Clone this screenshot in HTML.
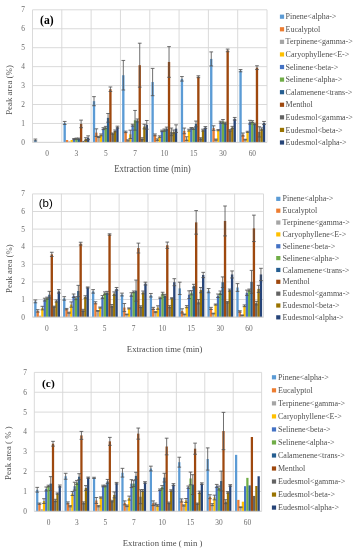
<!DOCTYPE html>
<html lang="en"><head><meta charset="utf-8"><title>Peak area vs extraction time</title>
<style>html,body{margin:0;padding:0;background:#fff}svg{display:block}text{font-family:"Liberation Serif",serif;fill:#595959}.k{fill:#6b6b6b}.l{fill:#505050}.a{fill:#4f4f4f}</style></head><body>
<svg width="357" height="550" viewBox="0 0 357 550">
<rect width="357" height="550" fill="#fff"/>
<g>
<path d="M32.50 142.40H267.00M32.50 123.46H267.00M32.50 104.51H267.00M32.50 85.57H267.00M32.50 66.63H267.00M32.50 47.69H267.00M32.50 28.74H267.00M32.50 9.80H267.00M32.50 9.80V142.40M61.81 9.80V142.40M91.12 9.80V142.40M120.44 9.80V142.40M149.75 9.80V142.40M179.06 9.80V142.40M208.38 9.80V142.40M237.69 9.80V142.40M267.00 9.80V142.40" stroke="#D6D6D6" stroke-width="0.9" fill="none"/>
<rect x="34.20" y="140.01" width="2.35" height="2.39" fill="#5B9BD5"/>
<rect x="63.51" y="122.96" width="2.35" height="19.44" fill="#5B9BD5"/><rect x="65.86" y="140.01" width="2.35" height="2.39" fill="#ED7D31"/><rect x="68.20" y="141.33" width="2.35" height="1.07" fill="#A5A5A5"/><rect x="70.55" y="140.01" width="2.35" height="2.39" fill="#FFC000"/><rect x="72.89" y="139.06" width="2.35" height="3.34" fill="#4472C4"/><rect x="75.24" y="138.68" width="2.35" height="3.72" fill="#70AD47"/><rect x="77.58" y="138.68" width="2.35" height="3.72" fill="#255E91"/><rect x="79.93" y="123.90" width="2.35" height="18.50" fill="#9E480E"/><rect x="82.27" y="140.95" width="2.35" height="1.45" fill="#636363"/><rect x="84.62" y="139.06" width="2.35" height="3.34" fill="#997300"/><rect x="86.96" y="137.73" width="2.35" height="4.67" fill="#264478"/>
<rect x="92.83" y="101.17" width="2.35" height="41.23" fill="#5B9BD5"/><rect x="95.17" y="132.62" width="2.35" height="9.78" fill="#ED7D31"/><rect x="97.52" y="136.97" width="2.35" height="5.43" fill="#A5A5A5"/><rect x="99.86" y="134.89" width="2.35" height="7.51" fill="#FFC000"/><rect x="102.20" y="128.64" width="2.35" height="13.76" fill="#4472C4"/><rect x="104.55" y="127.50" width="2.35" height="14.90" fill="#70AD47"/><rect x="106.90" y="117.84" width="2.35" height="24.56" fill="#255E91"/><rect x="109.24" y="89.24" width="2.35" height="53.16" fill="#9E480E"/><rect x="111.59" y="133.57" width="2.35" height="8.83" fill="#636363"/><rect x="113.93" y="130.91" width="2.35" height="11.49" fill="#997300"/><rect x="116.28" y="127.12" width="2.35" height="15.28" fill="#264478"/>
<rect x="122.14" y="75.22" width="2.35" height="67.18" fill="#5B9BD5"/><rect x="124.48" y="131.86" width="2.35" height="10.54" fill="#ED7D31"/><rect x="126.83" y="140.38" width="2.35" height="2.02" fill="#A5A5A5"/><rect x="129.17" y="134.32" width="2.35" height="8.08" fill="#FFC000"/><rect x="131.52" y="125.23" width="2.35" height="17.17" fill="#4472C4"/><rect x="133.86" y="120.31" width="2.35" height="22.09" fill="#70AD47"/><rect x="136.21" y="120.49" width="2.35" height="21.91" fill="#255E91"/><rect x="138.55" y="65.18" width="2.35" height="77.22" fill="#9E480E"/><rect x="140.90" y="138.68" width="2.35" height="3.72" fill="#636363"/><rect x="143.24" y="126.56" width="2.35" height="15.84" fill="#997300"/><rect x="145.59" y="124.85" width="2.35" height="17.55" fill="#264478"/>
<rect x="151.45" y="82.04" width="2.35" height="60.36" fill="#5B9BD5"/><rect x="153.79" y="134.89" width="2.35" height="7.51" fill="#ED7D31"/><rect x="156.14" y="139.63" width="2.35" height="2.77" fill="#A5A5A5"/><rect x="158.48" y="136.60" width="2.35" height="5.80" fill="#FFC000"/><rect x="160.83" y="130.91" width="2.35" height="11.49" fill="#4472C4"/><rect x="163.17" y="130.16" width="2.35" height="12.24" fill="#70AD47"/><rect x="165.52" y="128.64" width="2.35" height="13.76" fill="#255E91"/><rect x="167.86" y="61.96" width="2.35" height="80.44" fill="#9E480E"/><rect x="170.21" y="131.86" width="2.35" height="10.54" fill="#636363"/><rect x="172.55" y="131.86" width="2.35" height="10.54" fill="#997300"/><rect x="174.90" y="128.64" width="2.35" height="13.76" fill="#264478"/>
<rect x="180.76" y="78.82" width="2.35" height="63.58" fill="#5B9BD5"/><rect x="183.11" y="130.91" width="2.35" height="11.49" fill="#ED7D31"/><rect x="185.45" y="138.68" width="2.35" height="3.72" fill="#A5A5A5"/><rect x="187.80" y="130.16" width="2.35" height="12.24" fill="#FFC000"/><rect x="190.14" y="128.26" width="2.35" height="14.14" fill="#4472C4"/><rect x="192.49" y="128.64" width="2.35" height="13.76" fill="#70AD47"/><rect x="194.83" y="123.90" width="2.35" height="18.50" fill="#255E91"/><rect x="197.18" y="76.74" width="2.35" height="65.66" fill="#9E480E"/><rect x="199.52" y="138.49" width="2.35" height="3.91" fill="#636363"/><rect x="201.87" y="130.16" width="2.35" height="12.24" fill="#997300"/><rect x="204.21" y="127.50" width="2.35" height="14.90" fill="#264478"/>
<rect x="210.07" y="58.93" width="2.35" height="83.47" fill="#5B9BD5"/><rect x="212.42" y="128.07" width="2.35" height="14.33" fill="#ED7D31"/><rect x="214.76" y="139.63" width="2.35" height="2.77" fill="#A5A5A5"/><rect x="217.11" y="130.16" width="2.35" height="12.24" fill="#FFC000"/><rect x="219.45" y="122.20" width="2.35" height="20.20" fill="#4472C4"/><rect x="221.80" y="121.44" width="2.35" height="20.96" fill="#70AD47"/><rect x="224.14" y="123.15" width="2.35" height="19.25" fill="#255E91"/><rect x="226.49" y="50.41" width="2.35" height="91.99" fill="#9E480E"/><rect x="228.83" y="130.34" width="2.35" height="12.06" fill="#636363"/><rect x="231.18" y="127.50" width="2.35" height="14.90" fill="#997300"/><rect x="233.52" y="118.79" width="2.35" height="23.61" fill="#264478"/>
<rect x="239.39" y="70.67" width="2.35" height="71.73" fill="#5B9BD5"/><rect x="241.73" y="134.51" width="2.35" height="7.89" fill="#ED7D31"/><rect x="244.08" y="139.63" width="2.35" height="2.77" fill="#A5A5A5"/><rect x="246.42" y="131.86" width="2.35" height="10.54" fill="#FFC000"/><rect x="248.77" y="122.20" width="2.35" height="20.20" fill="#4472C4"/><rect x="251.11" y="121.63" width="2.35" height="20.77" fill="#70AD47"/><rect x="253.46" y="123.90" width="2.35" height="18.50" fill="#255E91"/><rect x="255.80" y="67.64" width="2.35" height="74.76" fill="#9E480E"/><rect x="258.15" y="131.86" width="2.35" height="10.54" fill="#636363"/><rect x="260.49" y="129.02" width="2.35" height="13.38" fill="#997300"/><rect x="262.84" y="122.96" width="2.35" height="19.44" fill="#264478"/>
<path d="M32.50 142.40H267.00" stroke="#D6D6D6" stroke-width="0.9" fill="none"/>
<path d="M35.37 139.06V140.95M33.52 139.06h3.7M33.52 140.95h3.7M64.69 121.44V124.47M62.84 121.44h3.7M62.84 124.47h3.7M74.06 138.49V139.63M72.22 138.49h3.7M72.22 139.63h3.7M76.41 138.11V139.25M74.56 138.11h3.7M74.56 139.25h3.7M78.76 138.11V139.25M76.91 138.11h3.7M76.91 139.25h3.7M81.10 120.12V127.69M79.25 120.12h3.7M79.25 127.69h3.7M85.79 137.73V140.38M83.94 137.73h3.7M83.94 140.38h3.7M88.14 135.84V139.63M86.29 135.84h3.7M86.29 139.63h3.7M94.00 96.63V105.72M92.15 96.63h3.7M92.15 105.72h3.7M96.34 128.83V136.41M94.49 128.83h3.7M94.49 136.41h3.7M98.69 136.41V137.54M96.84 136.41h3.7M96.84 137.54h3.7M101.03 133.94V135.84M99.18 133.94h3.7M99.18 135.84h3.7M103.38 127.69V129.59M101.53 127.69h3.7M101.53 129.59h3.7M105.72 126.37V128.64M103.87 126.37h3.7M103.87 128.64h3.7M108.07 113.49V122.20M106.22 113.49h3.7M106.22 122.20h3.7M110.41 86.97V91.51M108.56 86.97h3.7M108.56 91.51h3.7M112.76 133.00V134.13M110.91 133.00h3.7M110.91 134.13h3.7M115.10 129.97V131.86M113.25 129.97h3.7M113.25 131.86h3.7M117.45 126.18V128.07M115.60 126.18h3.7M115.60 128.07h3.7M123.31 60.45V90.00M121.46 60.45h3.7M121.46 90.00h3.7M125.66 131.10V132.62M123.81 131.10h3.7M123.81 132.62h3.7M128.00 139.82V140.95M126.15 139.82h3.7M126.15 140.95h3.7M130.35 130.16V138.49M128.50 130.16h3.7M128.50 138.49h3.7M132.69 124.28V126.18M130.84 124.28h3.7M130.84 126.18h3.7M135.04 110.45V130.16M133.19 110.45h3.7M133.19 130.16h3.7M137.38 118.98V122.01M135.53 118.98h3.7M135.53 122.01h3.7M139.73 43.21V87.16M137.88 43.21h3.7M137.88 87.16h3.7M142.07 137.73V139.63M140.22 137.73h3.7M140.22 139.63h3.7M144.42 124.28V128.83M142.57 124.28h3.7M142.57 128.83h3.7M146.76 120.49V129.21M144.91 120.49h3.7M144.91 129.21h3.7M152.62 68.40V95.68M150.77 68.40h3.7M150.77 95.68h3.7M154.97 133.94V135.84M153.12 133.94h3.7M153.12 135.84h3.7M157.31 138.87V140.38M155.46 138.87h3.7M155.46 140.38h3.7M159.66 135.84V137.35M157.81 135.84h3.7M157.81 137.35h3.7M162.00 130.16V131.67M160.15 130.16h3.7M160.15 131.67h3.7M164.35 129.02V131.29M162.50 129.02h3.7M162.50 131.29h3.7M166.69 127.12V130.16M164.84 127.12h3.7M164.84 130.16h3.7M169.04 46.62V77.30M167.19 46.62h3.7M167.19 77.30h3.7M171.38 128.07V135.65M169.53 128.07h3.7M169.53 135.65h3.7M173.73 129.97V133.75M171.88 129.97h3.7M171.88 133.75h3.7M176.07 124.85V132.43M174.22 124.85h3.7M174.22 132.43h3.7M181.94 76.55V81.09M180.09 76.55h3.7M180.09 81.09h3.7M184.28 128.07V133.75M182.43 128.07h3.7M182.43 133.75h3.7M186.62 136.79V140.57M184.78 136.79h3.7M184.78 140.57h3.7M188.97 129.21V131.10M187.12 129.21h3.7M187.12 131.10h3.7M191.31 127.50V129.02M189.47 127.50h3.7M189.47 129.02h3.7M193.66 127.88V129.40M191.81 127.88h3.7M191.81 129.40h3.7M196.00 121.06V126.75M194.16 121.06h3.7M194.16 126.75h3.7M198.35 75.79V77.68M196.50 75.79h3.7M196.50 77.68h3.7M200.69 137.73V139.25M198.84 137.73h3.7M198.84 139.25h3.7M203.04 129.21V131.10M201.19 129.21h3.7M201.19 131.10h3.7M205.38 126.56V128.45M203.53 126.56h3.7M203.53 128.45h3.7M211.25 51.92V65.94M209.40 51.92h3.7M209.40 65.94h3.7M213.59 125.80V130.34M211.74 125.80h3.7M211.74 130.34h3.7M215.94 139.06V140.20M214.09 139.06h3.7M214.09 140.20h3.7M218.28 129.59V130.72M216.43 129.59h3.7M216.43 130.72h3.7M220.63 121.25V123.15M218.78 121.25h3.7M218.78 123.15h3.7M222.97 119.55V123.34M221.12 119.55h3.7M221.12 123.34h3.7M225.32 122.20V124.09M223.47 122.20h3.7M223.47 124.09h3.7M227.66 49.08V51.73M225.81 49.08h3.7M225.81 51.73h3.7M230.01 129.59V131.10M228.16 129.59h3.7M228.16 131.10h3.7M232.35 126.37V128.64M230.50 126.37h3.7M230.50 128.64h3.7M234.70 117.46V120.12M232.85 117.46h3.7M232.85 120.12h3.7M240.56 69.54V71.81M238.71 69.54h3.7M238.71 71.81h3.7M242.91 133.00V136.03M241.06 133.00h3.7M241.06 136.03h3.7M245.25 139.25V140.01M243.40 139.25h3.7M243.40 140.01h3.7M247.59 131.29V132.43M245.75 131.29h3.7M245.75 132.43h3.7M249.94 120.31V124.09M248.09 120.31h3.7M248.09 124.09h3.7M252.28 120.68V122.58M250.44 120.68h3.7M250.44 122.58h3.7M254.63 123.15V124.66M252.78 123.15h3.7M252.78 124.66h3.7M256.97 65.75V69.54M255.12 65.75h3.7M255.12 69.54h3.7M259.32 126.75V136.97M257.47 126.75h3.7M257.47 136.97h3.7M261.67 127.88V130.16M259.81 127.88h3.7M259.81 130.16h3.7M264.01 121.44V124.47M262.16 121.44h3.7M262.16 124.47h3.7" stroke="#555555" stroke-width="0.85" fill="none"/>
<text x="23.0" y="144.95" class="k" font-size="7.4" text-anchor="middle">0</text><text x="23.0" y="126.01" class="k" font-size="7.4" text-anchor="middle">1</text><text x="23.0" y="107.06" class="k" font-size="7.4" text-anchor="middle">2</text><text x="23.0" y="88.12" class="k" font-size="7.4" text-anchor="middle">3</text><text x="23.0" y="69.18" class="k" font-size="7.4" text-anchor="middle">4</text><text x="23.0" y="50.24" class="k" font-size="7.4" text-anchor="middle">5</text><text x="23.0" y="31.29" class="k" font-size="7.4" text-anchor="middle">6</text><text x="23.0" y="12.35" class="k" font-size="7.4" text-anchor="middle">7</text>
<text x="47.16" y="155.60" class="k" font-size="7.4" text-anchor="middle">0</text><text x="76.47" y="155.60" class="k" font-size="7.4" text-anchor="middle">3</text><text x="105.78" y="155.60" class="k" font-size="7.4" text-anchor="middle">5</text><text x="135.09" y="155.60" class="k" font-size="7.4" text-anchor="middle">7</text><text x="164.41" y="155.60" class="k" font-size="7.4" text-anchor="middle">10</text><text x="193.72" y="155.60" class="k" font-size="7.4" text-anchor="middle">15</text><text x="223.03" y="155.60" class="k" font-size="7.4" text-anchor="middle">30</text><text x="252.34" y="155.60" class="k" font-size="7.4" text-anchor="middle">60</text>
<text x="152.50" y="171.90" font-size="9.37" text-anchor="middle" textLength="76.6" lengthAdjust="spacingAndGlyphs" class="a">Extraction time (min)</text>
<text transform="translate(11.80 90.00) rotate(-90)" font-size="8.95" text-anchor="middle" textLength="49.7" lengthAdjust="spacingAndGlyphs" class="a">Peak area (%)</text>
<text x="40.10" y="23.50" font-size="11.65" font-weight="bold" style="font-family:'Liberation Serif',serif;fill:#000">(a)</text>
<rect x="279.90" y="14.60" width="4.2" height="4.2" fill="#5B9BD5"/><text x="285.60" y="19.30" class="l" font-size="8">Pinene&lt;alpha-&gt;</text>
<rect x="279.90" y="27.18" width="4.2" height="4.2" fill="#ED7D31"/><text x="285.60" y="31.88" class="l" font-size="8">Eucalyptol</text>
<rect x="279.90" y="39.76" width="4.2" height="4.2" fill="#A5A5A5"/><text x="285.60" y="44.46" class="l" font-size="8">Terpinene&lt;gamma-&gt;</text>
<rect x="279.90" y="52.34" width="4.2" height="4.2" fill="#FFC000"/><text x="285.60" y="57.04" class="l" font-size="8">Caryophyllene&lt;E-&gt;</text>
<rect x="279.90" y="64.92" width="4.2" height="4.2" fill="#4472C4"/><text x="285.60" y="69.62" class="l" font-size="8">Selinene&lt;beta-&gt;</text>
<rect x="279.90" y="77.50" width="4.2" height="4.2" fill="#70AD47"/><text x="285.60" y="82.20" class="l" font-size="8">Selinene&lt;alpha-&gt;</text>
<rect x="279.90" y="90.08" width="4.2" height="4.2" fill="#255E91"/><text x="285.60" y="94.78" class="l" font-size="8">Calamenene&lt;trans-&gt;</text>
<rect x="279.90" y="102.66" width="4.2" height="4.2" fill="#9E480E"/><text x="285.60" y="107.36" class="l" font-size="8">Menthol</text>
<rect x="279.90" y="115.24" width="4.2" height="4.2" fill="#636363"/><text x="285.60" y="119.94" class="l" font-size="8">Eudesmol&lt;gamma-&gt;</text>
<rect x="279.90" y="127.82" width="4.2" height="4.2" fill="#997300"/><text x="285.60" y="132.52" class="l" font-size="8">Eudesmol&lt;beta-&gt;</text>
<rect x="279.90" y="140.40" width="4.2" height="4.2" fill="#264478"/><text x="285.60" y="145.10" class="l" font-size="8">Eudesmol&lt;alpha-&gt;</text>
</g>
<g>
<path d="M32.50 317.10H263.50M32.50 299.50H263.50M32.50 281.90H263.50M32.50 264.30H263.50M32.50 246.70H263.50M32.50 229.10H263.50M32.50 211.50H263.50M32.50 193.90H263.50M32.50 193.90V317.10M61.38 193.90V317.10M90.25 193.90V317.10M119.12 193.90V317.10M148.00 193.90V317.10M176.88 193.90V317.10M205.75 193.90V317.10M234.62 193.90V317.10M263.50 193.90V317.10" stroke="#D6D6D6" stroke-width="0.9" fill="none"/>
<rect x="34.20" y="301.39" width="2.35" height="15.71" fill="#5B9BD5"/><rect x="36.55" y="310.89" width="2.35" height="6.21" fill="#ED7D31"/><rect x="38.89" y="315.64" width="2.35" height="1.46" fill="#A5A5A5"/><rect x="41.23" y="308.08" width="2.35" height="9.02" fill="#FFC000"/><rect x="43.58" y="299.63" width="2.35" height="17.47" fill="#4472C4"/><rect x="45.93" y="298.22" width="2.35" height="18.88" fill="#70AD47"/><rect x="48.27" y="294.70" width="2.35" height="22.40" fill="#255E91"/><rect x="50.62" y="254.40" width="2.35" height="62.70" fill="#9E480E"/><rect x="52.96" y="306.67" width="2.35" height="10.43" fill="#636363"/><rect x="55.31" y="301.04" width="2.35" height="16.06" fill="#997300"/><rect x="57.65" y="291.36" width="2.35" height="25.74" fill="#264478"/>
<rect x="63.08" y="298.40" width="2.35" height="18.70" fill="#5B9BD5"/><rect x="65.42" y="309.13" width="2.35" height="7.97" fill="#ED7D31"/><rect x="67.77" y="312.65" width="2.35" height="4.45" fill="#A5A5A5"/><rect x="70.11" y="304.56" width="2.35" height="12.54" fill="#FFC000"/><rect x="72.45" y="295.76" width="2.35" height="21.34" fill="#4472C4"/><rect x="74.80" y="298.22" width="2.35" height="18.88" fill="#70AD47"/><rect x="77.15" y="291.00" width="2.35" height="26.10" fill="#255E91"/><rect x="79.49" y="243.66" width="2.35" height="73.44" fill="#9E480E"/><rect x="81.84" y="310.36" width="2.35" height="6.74" fill="#636363"/><rect x="84.18" y="296.99" width="2.35" height="20.11" fill="#997300"/><rect x="86.53" y="287.48" width="2.35" height="29.62" fill="#264478"/>
<rect x="91.95" y="291.36" width="2.35" height="25.74" fill="#5B9BD5"/><rect x="94.30" y="302.80" width="2.35" height="14.30" fill="#ED7D31"/><rect x="96.64" y="310.89" width="2.35" height="6.21" fill="#A5A5A5"/><rect x="98.98" y="307.55" width="2.35" height="9.55" fill="#FFC000"/><rect x="101.33" y="296.99" width="2.35" height="20.11" fill="#4472C4"/><rect x="103.68" y="293.12" width="2.35" height="23.98" fill="#70AD47"/><rect x="106.02" y="292.76" width="2.35" height="24.34" fill="#255E91"/><rect x="108.37" y="234.51" width="2.35" height="82.59" fill="#9E480E"/><rect x="110.71" y="305.79" width="2.35" height="11.31" fill="#636363"/><rect x="113.06" y="293.64" width="2.35" height="23.46" fill="#997300"/><rect x="115.40" y="288.89" width="2.35" height="28.21" fill="#264478"/>
<rect x="120.83" y="294.52" width="2.35" height="22.58" fill="#5B9BD5"/><rect x="123.17" y="307.55" width="2.35" height="9.55" fill="#ED7D31"/><rect x="125.52" y="314.41" width="2.35" height="2.69" fill="#A5A5A5"/><rect x="127.86" y="308.43" width="2.35" height="8.67" fill="#FFC000"/><rect x="130.21" y="294.52" width="2.35" height="22.58" fill="#4472C4"/><rect x="132.55" y="291.88" width="2.35" height="25.22" fill="#70AD47"/><rect x="134.90" y="290.65" width="2.35" height="26.45" fill="#255E91"/><rect x="137.24" y="248.06" width="2.35" height="69.04" fill="#9E480E"/><rect x="139.59" y="306.67" width="2.35" height="10.43" fill="#636363"/><rect x="141.93" y="292.41" width="2.35" height="24.69" fill="#997300"/><rect x="144.28" y="283.61" width="2.35" height="33.49" fill="#264478"/>
<rect x="149.70" y="295.23" width="2.35" height="21.87" fill="#5B9BD5"/><rect x="152.04" y="308.43" width="2.35" height="8.67" fill="#ED7D31"/><rect x="154.39" y="312.12" width="2.35" height="4.98" fill="#A5A5A5"/><rect x="156.73" y="307.55" width="2.35" height="9.55" fill="#FFC000"/><rect x="159.08" y="297.87" width="2.35" height="19.23" fill="#4472C4"/><rect x="161.42" y="293.64" width="2.35" height="23.46" fill="#70AD47"/><rect x="163.77" y="295.76" width="2.35" height="21.34" fill="#255E91"/><rect x="166.11" y="245.24" width="2.35" height="71.86" fill="#9E480E"/><rect x="168.46" y="306.67" width="2.35" height="10.43" fill="#636363"/><rect x="170.80" y="298.22" width="2.35" height="18.88" fill="#997300"/><rect x="173.15" y="282.20" width="2.35" height="34.90" fill="#264478"/>
<rect x="178.57" y="288.36" width="2.35" height="28.74" fill="#5B9BD5"/><rect x="180.92" y="310.89" width="2.35" height="6.21" fill="#ED7D31"/><rect x="183.26" y="314.41" width="2.35" height="2.69" fill="#A5A5A5"/><rect x="185.61" y="306.67" width="2.35" height="10.43" fill="#FFC000"/><rect x="187.95" y="294.70" width="2.35" height="22.40" fill="#4472C4"/><rect x="190.30" y="292.76" width="2.35" height="24.34" fill="#70AD47"/><rect x="192.64" y="286.08" width="2.35" height="31.02" fill="#255E91"/><rect x="194.99" y="222.36" width="2.35" height="94.74" fill="#9E480E"/><rect x="197.33" y="301.74" width="2.35" height="15.36" fill="#636363"/><rect x="199.68" y="290.12" width="2.35" height="26.98" fill="#997300"/><rect x="202.02" y="274.99" width="2.35" height="42.11" fill="#264478"/>
<rect x="207.45" y="290.65" width="2.35" height="26.45" fill="#5B9BD5"/><rect x="209.79" y="308.43" width="2.35" height="8.67" fill="#ED7D31"/><rect x="212.14" y="313.53" width="2.35" height="3.57" fill="#A5A5A5"/><rect x="214.48" y="304.56" width="2.35" height="12.54" fill="#FFC000"/><rect x="216.83" y="295.76" width="2.35" height="21.34" fill="#4472C4"/><rect x="219.17" y="292.76" width="2.35" height="24.34" fill="#70AD47"/><rect x="221.52" y="282.20" width="2.35" height="34.90" fill="#255E91"/><rect x="223.86" y="220.96" width="2.35" height="96.14" fill="#9E480E"/><rect x="226.21" y="302.27" width="2.35" height="14.83" fill="#636363"/><rect x="228.55" y="290.12" width="2.35" height="26.98" fill="#997300"/><rect x="230.90" y="274.46" width="2.35" height="42.64" fill="#264478"/>
<rect x="236.32" y="287.48" width="2.35" height="29.62" fill="#5B9BD5"/><rect x="238.67" y="311.42" width="2.35" height="5.68" fill="#ED7D31"/><rect x="241.01" y="315.29" width="2.35" height="1.81" fill="#A5A5A5"/><rect x="243.36" y="305.79" width="2.35" height="11.31" fill="#FFC000"/><rect x="245.70" y="292.76" width="2.35" height="24.34" fill="#4472C4"/><rect x="248.05" y="290.12" width="2.35" height="26.98" fill="#70AD47"/><rect x="250.39" y="281.85" width="2.35" height="35.25" fill="#255E91"/><rect x="252.74" y="228.35" width="2.35" height="88.75" fill="#9E480E"/><rect x="255.08" y="303.15" width="2.35" height="13.95" fill="#636363"/><rect x="257.43" y="288.89" width="2.35" height="28.21" fill="#997300"/><rect x="259.77" y="274.46" width="2.35" height="42.64" fill="#264478"/>
<path d="M32.50 317.10H263.50" stroke="#D6D6D6" stroke-width="0.9" fill="none"/>
<path d="M35.37 299.98V302.80M33.52 299.98h3.7M33.52 302.80h3.7M37.72 309.66V312.12M35.87 309.66h3.7M35.87 312.12h3.7M42.41 306.32V309.84M40.56 306.32h3.7M40.56 309.84h3.7M44.75 298.22V301.04M42.90 298.22h3.7M42.90 301.04h3.7M47.10 297.16V299.28M45.25 297.16h3.7M45.25 299.28h3.7M49.44 291.36V298.04M47.59 291.36h3.7M47.59 298.04h3.7M51.79 252.28V256.51M49.94 252.28h3.7M49.94 256.51h3.7M54.13 306.14V307.20M52.28 306.14h3.7M52.28 307.20h3.7M56.48 299.98V302.09M54.63 299.98h3.7M54.63 302.09h3.7M58.82 289.60V293.12M56.97 289.60h3.7M56.97 293.12h3.7M64.25 296.64V300.16M62.40 296.64h3.7M62.40 300.16h3.7M66.59 308.43V309.84M64.74 308.43h3.7M64.74 309.84h3.7M68.94 312.12V313.18M67.09 312.12h3.7M67.09 313.18h3.7M71.28 301.92V307.20M69.43 301.92h3.7M69.43 307.20h3.7M73.63 294.00V297.52M71.78 294.00h3.7M71.78 297.52h3.7M75.97 296.81V299.63M74.12 296.81h3.7M74.12 299.63h3.7M78.32 285.37V296.64M76.47 285.37h3.7M76.47 296.64h3.7M80.66 242.25V245.07M78.81 242.25h3.7M78.81 245.07h3.7M83.01 309.31V311.42M81.16 309.31h3.7M81.16 311.42h3.7M85.35 295.76V298.22M83.50 295.76h3.7M83.50 298.22h3.7M87.70 286.96V288.01M85.85 286.96h3.7M85.85 288.01h3.7M93.12 289.60V293.12M91.27 289.60h3.7M91.27 293.12h3.7M95.47 301.74V303.85M93.62 301.74h3.7M93.62 303.85h3.7M97.81 310.54V311.24M95.96 310.54h3.7M95.96 311.24h3.7M100.16 307.02V308.08M98.31 307.02h3.7M98.31 308.08h3.7M102.50 295.58V298.40M100.65 295.58h3.7M100.65 298.40h3.7M104.85 291.88V294.35M103.00 291.88h3.7M103.00 294.35h3.7M107.19 291.36V294.17M105.34 291.36h3.7M105.34 294.17h3.7M109.54 233.80V235.21M107.69 233.80h3.7M107.69 235.21h3.7M111.88 304.56V307.02M110.03 304.56h3.7M110.03 307.02h3.7M114.23 291.88V295.40M112.38 291.88h3.7M112.38 295.40h3.7M116.57 287.48V290.30M114.72 287.48h3.7M114.72 290.30h3.7M122.00 293.12V295.93M120.15 293.12h3.7M120.15 295.93h3.7M124.34 303.50V311.60M122.49 303.50h3.7M122.49 311.60h3.7M126.69 314.06V314.76M124.84 314.06h3.7M124.84 314.76h3.7M129.03 307.90V308.96M127.18 307.90h3.7M127.18 308.96h3.7M131.38 292.76V296.28M129.53 292.76h3.7M129.53 296.28h3.7M133.72 291.00V292.76M131.87 291.00h3.7M131.87 292.76h3.7M136.07 280.09V301.21M134.22 280.09h3.7M134.22 301.21h3.7M138.41 243.13V252.99M136.56 243.13h3.7M136.56 252.99h3.7M140.76 305.79V307.55M138.91 305.79h3.7M138.91 307.55h3.7M143.10 291.00V293.82M141.25 291.00h3.7M141.25 293.82h3.7M145.45 282.20V285.02M143.60 282.20h3.7M143.60 285.02h3.7M150.87 293.47V296.99M149.02 293.47h3.7M149.02 296.99h3.7M153.22 307.37V309.48M151.37 307.37h3.7M151.37 309.48h3.7M155.56 311.60V312.65M153.71 311.60h3.7M153.71 312.65h3.7M157.91 305.79V309.31M156.06 305.79h3.7M156.06 309.31h3.7M160.25 297.16V298.57M158.40 297.16h3.7M158.40 298.57h3.7M162.60 292.24V295.05M160.75 292.24h3.7M160.75 295.05h3.7M164.94 294.35V297.16M163.09 294.35h3.7M163.09 297.16h3.7M167.29 242.08V248.41M165.44 242.08h3.7M165.44 248.41h3.7M169.63 305.61V307.72M167.78 305.61h3.7M167.78 307.72h3.7M171.98 297.69V298.75M170.13 297.69h3.7M170.13 298.75h3.7M174.32 278.68V285.72M172.47 278.68h3.7M172.47 285.72h3.7M179.75 282.20V294.52M177.90 282.20h3.7M177.90 294.52h3.7M182.09 308.78V313.00M180.24 308.78h3.7M180.24 313.00h3.7M184.44 314.06V314.76M182.59 314.06h3.7M182.59 314.76h3.7M186.78 305.61V307.72M184.93 305.61h3.7M184.93 307.72h3.7M189.13 290.83V298.57M187.28 290.83h3.7M187.28 298.57h3.7M191.47 290.65V294.88M189.62 290.65h3.7M189.62 294.88h3.7M193.82 284.32V287.84M191.97 284.32h3.7M191.97 287.84h3.7M196.16 210.57V234.16M194.31 210.57h3.7M194.31 234.16h3.7M198.51 299.63V303.85M196.66 299.63h3.7M196.66 303.85h3.7M200.85 287.48V292.76M199.00 287.48h3.7M199.00 292.76h3.7M203.20 272.35V277.63M201.35 272.35h3.7M201.35 277.63h3.7M208.62 288.54V292.76M206.77 288.54h3.7M206.77 292.76h3.7M210.97 307.37V309.48M209.12 307.37h3.7M209.12 309.48h3.7M213.31 313.18V313.88M211.46 313.18h3.7M211.46 313.88h3.7M215.66 304.03V305.08M213.81 304.03h3.7M213.81 305.08h3.7M218.00 294.00V297.52M216.15 294.00h3.7M216.15 297.52h3.7M220.35 291.00V294.52M218.50 291.00h3.7M218.50 294.52h3.7M222.69 276.92V287.48M220.84 276.92h3.7M220.84 287.48h3.7M225.04 206.00V235.92M223.19 206.00h3.7M223.19 235.92h3.7M227.38 301.56V302.97M225.53 301.56h3.7M225.53 302.97h3.7M229.73 289.07V291.18M227.88 289.07h3.7M227.88 291.18h3.7M232.07 270.94V277.98M230.22 270.94h3.7M230.22 277.98h3.7M237.50 283.61V291.36M235.65 283.61h3.7M235.65 291.36h3.7M239.84 310.72V312.12M237.99 310.72h3.7M237.99 312.12h3.7M242.19 314.94V315.64M240.34 314.94h3.7M240.34 315.64h3.7M244.53 304.91V306.67M242.68 304.91h3.7M242.68 306.67h3.7M246.88 290.12V295.40M245.03 290.12h3.7M245.03 295.40h3.7M249.22 289.07V291.18M247.37 289.07h3.7M247.37 291.18h3.7M251.57 270.41V293.29M249.72 270.41h3.7M249.72 293.29h3.7M253.91 215.15V241.55M252.06 215.15h3.7M252.06 241.55h3.7M256.26 301.39V304.91M254.41 301.39h3.7M254.41 304.91h3.7M258.60 285.37V292.41M256.75 285.37h3.7M256.75 292.41h3.7M260.95 268.30V280.62M259.10 268.30h3.7M259.10 280.62h3.7" stroke="#555555" stroke-width="0.85" fill="none"/>
<text x="23.0" y="319.65" class="k" font-size="7.4" text-anchor="middle">0</text><text x="23.0" y="302.05" class="k" font-size="7.4" text-anchor="middle">1</text><text x="23.0" y="284.45" class="k" font-size="7.4" text-anchor="middle">2</text><text x="23.0" y="266.85" class="k" font-size="7.4" text-anchor="middle">3</text><text x="23.0" y="249.25" class="k" font-size="7.4" text-anchor="middle">4</text><text x="23.0" y="231.65" class="k" font-size="7.4" text-anchor="middle">5</text><text x="23.0" y="214.05" class="k" font-size="7.4" text-anchor="middle">6</text><text x="23.0" y="196.45" class="k" font-size="7.4" text-anchor="middle">7</text>
<text x="46.94" y="331.00" class="k" font-size="7.4" text-anchor="middle">0</text><text x="75.81" y="331.00" class="k" font-size="7.4" text-anchor="middle">3</text><text x="104.69" y="331.00" class="k" font-size="7.4" text-anchor="middle">5</text><text x="133.56" y="331.00" class="k" font-size="7.4" text-anchor="middle">7</text><text x="162.44" y="331.00" class="k" font-size="7.4" text-anchor="middle">10</text><text x="191.31" y="331.00" class="k" font-size="7.4" text-anchor="middle">15</text><text x="220.19" y="331.00" class="k" font-size="7.4" text-anchor="middle">30</text><text x="249.06" y="331.00" class="k" font-size="7.4" text-anchor="middle">60</text>
<text x="164.60" y="352.20" font-size="9.25" text-anchor="middle" textLength="75.6" lengthAdjust="spacingAndGlyphs" class="a">Extraction time (min)</text>
<text transform="translate(11.70 268.70) rotate(-90)" font-size="8.72" text-anchor="middle" textLength="48.4" lengthAdjust="spacingAndGlyphs" class="a">Peak area (%)</text>
<text x="38.70" y="206.80" font-size="11.5" font-weight="normal" style="font-family:'Liberation Sans',sans-serif;fill:#000">(b)</text>
<rect x="276.20" y="196.75" width="4.2" height="4.2" fill="#5B9BD5"/><text x="282.60" y="201.45" class="l" font-size="8">Pinene&lt;alpha-&gt;</text>
<rect x="276.20" y="208.60" width="4.2" height="4.2" fill="#ED7D31"/><text x="282.60" y="213.30" class="l" font-size="8">Eucalyptol</text>
<rect x="276.20" y="220.45" width="4.2" height="4.2" fill="#A5A5A5"/><text x="282.60" y="225.15" class="l" font-size="8">Terpinene&lt;gamma-&gt;</text>
<rect x="276.20" y="232.30" width="4.2" height="4.2" fill="#FFC000"/><text x="282.60" y="237.00" class="l" font-size="8">Caryophyllene&lt;E-&gt;</text>
<rect x="276.20" y="244.15" width="4.2" height="4.2" fill="#4472C4"/><text x="282.60" y="248.85" class="l" font-size="8">Selinene&lt;beta-&gt;</text>
<rect x="276.20" y="256.00" width="4.2" height="4.2" fill="#70AD47"/><text x="282.60" y="260.70" class="l" font-size="8">Selinene&lt;alpha-&gt;</text>
<rect x="276.20" y="267.85" width="4.2" height="4.2" fill="#255E91"/><text x="282.60" y="272.55" class="l" font-size="8">Calamenene&lt;trans-&gt;</text>
<rect x="276.20" y="279.70" width="4.2" height="4.2" fill="#9E480E"/><text x="282.60" y="284.40" class="l" font-size="8">Menthol</text>
<rect x="276.20" y="291.55" width="4.2" height="4.2" fill="#636363"/><text x="282.60" y="296.25" class="l" font-size="8">Eudesmol&lt;gamma-&gt;</text>
<rect x="276.20" y="303.40" width="4.2" height="4.2" fill="#997300"/><text x="282.60" y="308.10" class="l" font-size="8">Eudesmol&lt;beta-&gt;</text>
<rect x="276.20" y="315.25" width="4.2" height="4.2" fill="#264478"/><text x="282.60" y="319.95" class="l" font-size="8">Eudesmol&lt;alpha-&gt;</text>
</g>
<g>
<path d="M34.30 511.30H261.60M34.30 491.46H261.60M34.30 471.61H261.60M34.30 451.77H261.60M34.30 431.93H261.60M34.30 412.09H261.60M34.30 392.24H261.60M34.30 372.40H261.60M34.30 372.40V511.30M62.71 372.40V511.30M91.12 372.40V511.30M119.54 372.40V511.30M147.95 372.40V511.30M176.36 372.40V511.30M204.78 372.40V511.30M233.19 372.40V511.30M261.60 372.40V511.30" stroke="#D6D6D6" stroke-width="0.9" fill="none"/>
<rect x="36.10" y="489.77" width="2.25" height="21.53" fill="#5B9BD5"/><rect x="38.35" y="503.66" width="2.25" height="7.64" fill="#ED7D31"/><rect x="40.61" y="509.21" width="2.25" height="2.09" fill="#A5A5A5"/><rect x="42.86" y="501.08" width="2.25" height="10.22" fill="#FFC000"/><rect x="45.12" y="488.97" width="2.25" height="22.33" fill="#4472C4"/><rect x="47.37" y="486.00" width="2.25" height="25.30" fill="#70AD47"/><rect x="49.63" y="483.62" width="2.25" height="27.68" fill="#255E91"/><rect x="51.88" y="443.73" width="2.25" height="67.57" fill="#9E480E"/><rect x="54.14" y="500.48" width="2.25" height="10.82" fill="#636363"/><rect x="56.39" y="493.54" width="2.25" height="17.76" fill="#997300"/><rect x="58.65" y="486.00" width="2.25" height="25.30" fill="#264478"/>
<rect x="64.51" y="476.27" width="2.25" height="35.03" fill="#5B9BD5"/><rect x="66.77" y="502.86" width="2.25" height="8.44" fill="#ED7D31"/><rect x="69.02" y="506.24" width="2.25" height="5.06" fill="#A5A5A5"/><rect x="71.28" y="493.54" width="2.25" height="17.76" fill="#FFC000"/><rect x="73.53" y="486.20" width="2.25" height="25.10" fill="#4472C4"/><rect x="75.79" y="482.43" width="2.25" height="28.87" fill="#70AD47"/><rect x="78.04" y="476.67" width="2.25" height="34.63" fill="#255E91"/><rect x="80.30" y="435.40" width="2.25" height="75.90" fill="#9E480E"/><rect x="82.55" y="502.86" width="2.25" height="8.44" fill="#636363"/><rect x="84.81" y="487.98" width="2.25" height="23.32" fill="#997300"/><rect x="87.06" y="477.66" width="2.25" height="33.64" fill="#264478"/>
<rect x="92.92" y="477.86" width="2.25" height="33.44" fill="#5B9BD5"/><rect x="95.18" y="500.48" width="2.25" height="10.82" fill="#ED7D31"/><rect x="97.44" y="506.24" width="2.25" height="5.06" fill="#A5A5A5"/><rect x="99.69" y="497.51" width="2.25" height="13.79" fill="#FFC000"/><rect x="101.94" y="486.00" width="2.25" height="25.30" fill="#4472C4"/><rect x="104.20" y="486.00" width="2.25" height="25.30" fill="#70AD47"/><rect x="106.45" y="481.43" width="2.25" height="29.87" fill="#255E91"/><rect x="108.71" y="441.35" width="2.25" height="69.95" fill="#9E480E"/><rect x="110.97" y="501.08" width="2.25" height="10.22" fill="#636363"/><rect x="113.22" y="494.93" width="2.25" height="16.37" fill="#997300"/><rect x="115.47" y="483.22" width="2.25" height="28.08" fill="#264478"/>
<rect x="121.34" y="472.70" width="2.25" height="38.60" fill="#5B9BD5"/><rect x="123.59" y="502.86" width="2.25" height="8.44" fill="#ED7D31"/><rect x="125.85" y="505.84" width="2.25" height="5.46" fill="#A5A5A5"/><rect x="128.10" y="498.10" width="2.25" height="13.20" fill="#FFC000"/><rect x="130.36" y="483.62" width="2.25" height="27.68" fill="#4472C4"/><rect x="132.61" y="483.62" width="2.25" height="27.68" fill="#70AD47"/><rect x="134.87" y="475.88" width="2.25" height="35.42" fill="#255E91"/><rect x="137.12" y="433.61" width="2.25" height="77.69" fill="#9E480E"/><rect x="139.38" y="496.71" width="2.25" height="14.59" fill="#636363"/><rect x="141.63" y="490.56" width="2.25" height="20.74" fill="#997300"/><rect x="143.89" y="482.43" width="2.25" height="28.87" fill="#264478"/>
<rect x="149.75" y="468.54" width="2.25" height="42.76" fill="#5B9BD5"/><rect x="152.00" y="503.26" width="2.25" height="8.04" fill="#ED7D31"/><rect x="154.26" y="504.06" width="2.25" height="7.25" fill="#A5A5A5"/><rect x="156.51" y="505.44" width="2.25" height="5.86" fill="#FFC000"/><rect x="158.77" y="489.77" width="2.25" height="21.53" fill="#4472C4"/><rect x="161.03" y="487.19" width="2.25" height="24.11" fill="#70AD47"/><rect x="163.28" y="477.66" width="2.25" height="33.64" fill="#255E91"/><rect x="165.53" y="446.51" width="2.25" height="64.79" fill="#9E480E"/><rect x="167.79" y="502.86" width="2.25" height="8.44" fill="#636363"/><rect x="170.04" y="490.56" width="2.25" height="20.74" fill="#997300"/><rect x="172.30" y="484.61" width="2.25" height="26.69" fill="#264478"/>
<rect x="178.16" y="462.19" width="2.25" height="49.11" fill="#5B9BD5"/><rect x="180.42" y="500.48" width="2.25" height="10.82" fill="#ED7D31"/><rect x="182.67" y="505.44" width="2.25" height="5.86" fill="#A5A5A5"/><rect x="184.93" y="500.48" width="2.25" height="10.82" fill="#FFC000"/><rect x="187.18" y="487.19" width="2.25" height="24.11" fill="#4472C4"/><rect x="189.44" y="478.46" width="2.25" height="32.84" fill="#70AD47"/><rect x="191.69" y="484.61" width="2.25" height="26.69" fill="#255E91"/><rect x="193.95" y="448.69" width="2.25" height="62.61" fill="#9E480E"/><rect x="196.20" y="503.66" width="2.25" height="7.64" fill="#636363"/><rect x="198.46" y="492.35" width="2.25" height="18.95" fill="#997300"/><rect x="200.71" y="483.62" width="2.25" height="27.68" fill="#264478"/>
<rect x="206.58" y="459.01" width="2.25" height="52.29" fill="#5B9BD5"/><rect x="208.83" y="496.71" width="2.25" height="14.59" fill="#ED7D31"/><rect x="211.09" y="504.65" width="2.25" height="6.65" fill="#A5A5A5"/><rect x="213.34" y="497.51" width="2.25" height="13.79" fill="#FFC000"/><rect x="215.60" y="486.00" width="2.25" height="25.30" fill="#4472C4"/><rect x="217.85" y="487.98" width="2.25" height="23.32" fill="#70AD47"/><rect x="220.11" y="481.04" width="2.25" height="30.26" fill="#255E91"/><rect x="222.36" y="431.03" width="2.25" height="80.27" fill="#9E480E"/><rect x="224.62" y="501.67" width="2.25" height="9.63" fill="#636363"/><rect x="226.87" y="492.35" width="2.25" height="18.95" fill="#997300"/><rect x="229.13" y="485.40" width="2.25" height="25.90" fill="#264478"/>
<rect x="234.99" y="454.84" width="2.25" height="56.46" fill="#5B9BD5"/><rect x="237.24" y="499.89" width="2.25" height="11.41" fill="#ED7D31"/><rect x="239.50" y="507.23" width="2.25" height="4.07" fill="#A5A5A5"/><rect x="241.75" y="501.67" width="2.25" height="9.63" fill="#FFC000"/><rect x="244.01" y="486.20" width="2.25" height="25.10" fill="#4472C4"/><rect x="246.26" y="477.86" width="2.25" height="33.44" fill="#70AD47"/><rect x="248.52" y="485.40" width="2.25" height="25.90" fill="#255E91"/><rect x="250.77" y="436.99" width="2.25" height="74.31" fill="#9E480E"/><rect x="253.03" y="495.92" width="2.25" height="15.38" fill="#636363"/><rect x="255.28" y="486.00" width="2.25" height="25.30" fill="#997300"/><rect x="257.54" y="476.27" width="2.25" height="35.03" fill="#264478"/>
<path d="M34.30 511.30H261.60" stroke="#D6D6D6" stroke-width="0.9" fill="none"/>
<path d="M37.23 487.39V492.15M35.38 487.39h3.7M35.38 492.15h3.7M39.48 503.06V504.25M37.63 503.06h3.7M37.63 504.25h3.7M43.99 498.70V503.46M42.14 498.70h3.7M42.14 503.46h3.7M46.25 486.99V490.96M44.40 486.99h3.7M44.40 490.96h3.7M48.50 485.20V486.79M46.65 485.20h3.7M46.65 486.79h3.7M50.76 476.67V490.56M48.91 476.67h3.7M48.91 490.56h3.7M53.01 441.35V446.11M51.16 441.35h3.7M51.16 446.11h3.7M55.27 499.29V501.67M53.42 499.29h3.7M53.42 501.67h3.7M57.52 492.94V494.13M55.67 492.94h3.7M55.67 494.13h3.7M59.78 485.01V486.99M57.93 485.01h3.7M57.93 486.99h3.7M65.64 473.30V479.25M63.79 473.30h3.7M63.79 479.25h3.7M67.89 501.87V503.86M66.05 501.87h3.7M66.05 503.86h3.7M70.15 505.64V506.83M68.30 505.64h3.7M68.30 506.83h3.7M72.41 491.55V495.52M70.56 491.55h3.7M70.56 495.52h3.7M74.66 482.23V490.17M72.81 482.23h3.7M72.81 490.17h3.7M76.91 480.44V484.41M75.06 480.44h3.7M75.06 484.41h3.7M79.17 473.70V479.65M77.32 473.70h3.7M77.32 479.65h3.7M81.42 431.43V439.37M79.58 431.43h3.7M79.58 439.37h3.7M83.68 501.87V503.86M81.83 501.87h3.7M81.83 503.86h3.7M85.94 485.60V490.36M84.09 485.60h3.7M84.09 490.36h3.7M88.19 477.07V478.26M86.34 477.07h3.7M86.34 478.26h3.7M94.05 477.27V478.46M92.20 477.27h3.7M92.20 478.46h3.7M96.31 497.51V503.46M94.46 497.51h3.7M94.46 503.46h3.7M98.56 505.64V506.83M96.71 505.64h3.7M96.71 506.83h3.7M100.82 496.91V498.10M98.97 496.91h3.7M98.97 498.10h3.7M103.07 485.20V486.79M101.22 485.20h3.7M101.22 486.79h3.7M105.33 485.20V486.79M103.48 485.20h3.7M103.48 486.79h3.7M107.58 479.45V483.42M105.73 479.45h3.7M105.73 483.42h3.7M109.84 437.38V445.32M107.99 437.38h3.7M107.99 445.32h3.7M112.09 500.28V501.87M110.24 500.28h3.7M110.24 501.87h3.7M114.35 491.95V497.90M112.50 491.95h3.7M112.50 497.90h3.7M116.60 482.43V484.01M114.75 482.43h3.7M114.75 484.01h3.7M122.47 468.34V477.07M120.62 468.34h3.7M120.62 477.07h3.7M124.72 500.88V504.85M122.87 500.88h3.7M122.87 504.85h3.7M126.98 505.05V506.63M125.13 505.05h3.7M125.13 506.63h3.7M129.23 496.12V500.09M127.38 496.12h3.7M127.38 500.09h3.7M131.49 479.65V487.59M129.64 479.65h3.7M129.64 487.59h3.7M133.74 480.64V486.59M131.89 480.64h3.7M131.89 486.59h3.7M136.00 472.31V479.45M134.15 472.31h3.7M134.15 479.45h3.7M138.25 428.06V439.17M136.40 428.06h3.7M136.40 439.17h3.7M140.50 489.77V503.66M138.66 489.77h3.7M138.66 503.66h3.7M142.76 489.57V491.55M140.91 489.57h3.7M140.91 491.55h3.7M145.01 481.63V483.22M143.16 481.63h3.7M143.16 483.22h3.7M150.88 466.16V470.92M149.03 466.16h3.7M149.03 470.92h3.7M153.13 500.88V505.64M151.28 500.88h3.7M151.28 505.64h3.7M155.39 503.06V505.05M153.54 503.06h3.7M153.54 505.05h3.7M157.64 504.65V506.24M155.79 504.65h3.7M155.79 506.24h3.7M159.90 488.97V490.56M158.05 488.97h3.7M158.05 490.56h3.7M162.15 485.60V488.78M160.30 485.60h3.7M160.30 488.78h3.7M164.41 473.30V482.03M162.56 473.30h3.7M162.56 482.03h3.7M166.66 438.18V454.84M164.81 438.18h3.7M164.81 454.84h3.7M168.92 502.07V503.66M167.07 502.07h3.7M167.07 503.66h3.7M171.17 489.77V491.36M169.32 489.77h3.7M169.32 491.36h3.7M173.43 483.62V485.60M171.58 483.62h3.7M171.58 485.60h3.7M179.29 457.23V467.15M177.44 457.23h3.7M177.44 467.15h3.7M181.55 498.90V502.07M179.70 498.90h3.7M179.70 502.07h3.7M183.80 504.85V506.04M181.95 504.85h3.7M181.95 506.04h3.7M186.06 498.50V502.47M184.21 498.50h3.7M184.21 502.47h3.7M188.31 486.00V488.38M186.46 486.00h3.7M186.46 488.38h3.7M190.57 472.11V484.81M188.72 472.11h3.7M188.72 484.81h3.7M192.82 474.69V494.53M190.97 474.69h3.7M190.97 494.53h3.7M195.08 443.14V454.25M193.23 443.14h3.7M193.23 454.25h3.7M197.33 503.06V504.25M195.48 503.06h3.7M195.48 504.25h3.7M199.59 491.16V493.54M197.74 491.16h3.7M197.74 493.54h3.7M201.84 482.82V484.41M199.99 482.82h3.7M199.99 484.41h3.7M207.70 447.90V470.12M205.85 447.90h3.7M205.85 470.12h3.7M209.96 494.73V498.70M208.11 494.73h3.7M208.11 498.70h3.7M212.21 503.66V505.64M210.36 503.66h3.7M210.36 505.64h3.7M214.47 495.13V499.89M212.62 495.13h3.7M212.62 499.89h3.7M216.72 484.41V487.59M214.87 484.41h3.7M214.87 487.59h3.7M218.98 486.00V489.97M217.13 486.00h3.7M217.13 489.97h3.7M221.23 471.12V490.96M219.38 471.12h3.7M219.38 490.96h3.7M223.49 412.38V449.69M221.64 412.38h3.7M221.64 449.69h3.7M225.74 499.69V503.66M223.89 499.69h3.7M223.89 503.66h3.7M228.00 491.55V493.14M226.15 491.55h3.7M226.15 493.14h3.7M230.25 484.61V486.20M228.40 484.61h3.7M228.40 486.20h3.7M240.62 506.83V507.63M238.78 506.83h3.7M238.78 507.63h3.7" stroke="#555555" stroke-width="0.85" fill="none"/>
<text x="25.0" y="513.85" class="k" font-size="7.4" text-anchor="middle">0</text><text x="25.0" y="494.01" class="k" font-size="7.4" text-anchor="middle">1</text><text x="25.0" y="474.16" class="k" font-size="7.4" text-anchor="middle">2</text><text x="25.0" y="454.32" class="k" font-size="7.4" text-anchor="middle">3</text><text x="25.0" y="434.48" class="k" font-size="7.4" text-anchor="middle">4</text><text x="25.0" y="414.64" class="k" font-size="7.4" text-anchor="middle">5</text><text x="25.0" y="394.79" class="k" font-size="7.4" text-anchor="middle">6</text><text x="25.0" y="374.95" class="k" font-size="7.4" text-anchor="middle">7</text>
<text x="48.51" y="525.10" class="k" font-size="7.4" text-anchor="middle">0</text><text x="76.92" y="525.10" class="k" font-size="7.4" text-anchor="middle">3</text><text x="105.33" y="525.10" class="k" font-size="7.4" text-anchor="middle">5</text><text x="133.74" y="525.10" class="k" font-size="7.4" text-anchor="middle">7</text><text x="162.16" y="525.10" class="k" font-size="7.4" text-anchor="middle">10</text><text x="190.57" y="525.10" class="k" font-size="7.4" text-anchor="middle">15</text><text x="218.98" y="525.10" class="k" font-size="7.4" text-anchor="middle">30</text><text x="247.39" y="525.10" class="k" font-size="7.4" text-anchor="middle">60</text>
<text x="162.60" y="546.20" font-size="9.21" text-anchor="middle" textLength="79.6" lengthAdjust="spacingAndGlyphs" class="a">Extraction time ( min )</text>
<text transform="translate(10.60 453.20) rotate(-90)" font-size="8.85" text-anchor="middle" textLength="53.5" lengthAdjust="spacingAndGlyphs" class="a">Peak area ( % )</text>
<text x="42.10" y="387.20" font-size="11.35" font-weight="bold" style="font-family:'Liberation Serif',serif;fill:#000">(c)</text>
<rect x="271.90" y="375.20" width="4.2" height="4.2" fill="#5B9BD5"/><text x="278.00" y="379.90" class="l" font-size="8">Pinene&lt;alpha-&gt;</text>
<rect x="271.90" y="388.23" width="4.2" height="4.2" fill="#ED7D31"/><text x="278.00" y="392.93" class="l" font-size="8">Eucalyptol</text>
<rect x="271.90" y="401.26" width="4.2" height="4.2" fill="#A5A5A5"/><text x="278.00" y="405.96" class="l" font-size="8">Terpinene&lt;gamma-&gt;</text>
<rect x="271.90" y="414.29" width="4.2" height="4.2" fill="#FFC000"/><text x="278.00" y="418.99" class="l" font-size="8">Caryophyllene&lt;E-&gt;</text>
<rect x="271.90" y="427.32" width="4.2" height="4.2" fill="#4472C4"/><text x="278.00" y="432.02" class="l" font-size="8">Selinene&lt;beta-&gt;</text>
<rect x="271.90" y="440.35" width="4.2" height="4.2" fill="#70AD47"/><text x="278.00" y="445.05" class="l" font-size="8">Selinene&lt;alpha-&gt;</text>
<rect x="271.90" y="453.38" width="4.2" height="4.2" fill="#255E91"/><text x="278.00" y="458.08" class="l" font-size="8">Calamenene&lt;trans-&gt;</text>
<rect x="271.90" y="466.41" width="4.2" height="4.2" fill="#9E480E"/><text x="278.00" y="471.11" class="l" font-size="8">Menthol</text>
<rect x="271.90" y="479.44" width="4.2" height="4.2" fill="#636363"/><text x="278.00" y="484.14" class="l" font-size="8">Eudesmol&lt;gamma-&gt;</text>
<rect x="271.90" y="492.47" width="4.2" height="4.2" fill="#997300"/><text x="278.00" y="497.17" class="l" font-size="8">Eudesmol&lt;beta-&gt;</text>
<rect x="271.90" y="505.50" width="4.2" height="4.2" fill="#264478"/><text x="278.00" y="510.20" class="l" font-size="8">Eudesmol&lt;alpha-&gt;</text>
</g>
</svg>
</body></html>
